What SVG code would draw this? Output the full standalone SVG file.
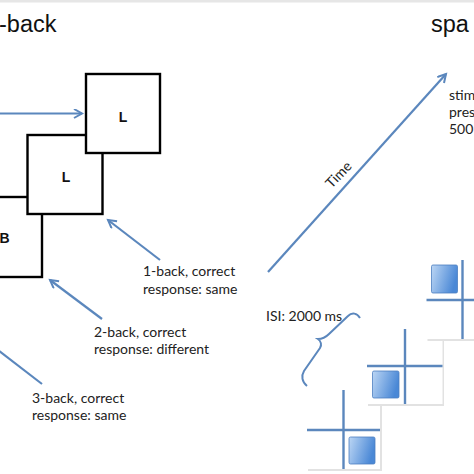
<svg xmlns="http://www.w3.org/2000/svg" width="474" height="474" viewBox="0 0 474 474">
<style>
.title{font-family:"Liberation Sans",Arial,sans-serif;font-size:23.5px;fill:#111}
.lbl{font-family:Lato,"Open Sans",sans-serif;font-size:14px;fill:#222}
.let{font-family:"Liberation Sans",Arial,sans-serif;font-size:14px;font-weight:bold;fill:#111}
.box{fill:#fff;stroke:#000;stroke-width:2.4}
.arr{stroke:#5b87bd;stroke-width:2.2;fill:none;marker-end:url(#ah)}
.cross{stroke:#5b87bd;stroke-width:2.4;fill:none}
.panel{fill:#fff}
.shadow{fill:#e2e2e2}
.stim{fill:url(#bg);stroke:#4d7fc0;stroke-width:0.8}
</style>
<defs>
<marker id="ah" markerUnits="userSpaceOnUse" markerWidth="12" markerHeight="12" refX="9" refY="5" orient="auto">
<path d="M1,0.5 L9,5 L1,9.5" fill="none" stroke="#5b87bd" stroke-width="2"/>
</marker>
<linearGradient id="bg" x1="0" y1="0" x2="1" y2="0.3">
<stop offset="0" stop-color="#bcd6f4"/>
<stop offset="1" stop-color="#4a88d6"/>
</linearGradient>
</defs>
<rect x="0" y="0" width="474" height="474" fill="#fff"/>
<rect x="0" y="0" width="474" height="2.5" fill="#e6e6e6"/>
<text class="title" x="-1" y="32">-back</text>
<text class="title" x="431" y="32">spa</text>

<g id="box3"><rect class="box" x="-33" y="197" width="75" height="80"/><text class="let" x="4.5" y="243" text-anchor="middle">B</text></g>
<g id="box2"><rect class="box" x="27.5" y="135" width="75" height="79"/><text class="let" x="66" y="182" text-anchor="middle">L</text></g>
<g id="box1"><rect class="box" x="86" y="74" width="74" height="79"/><text class="let" x="123" y="122" text-anchor="middle">L</text></g>

<g id="connectors">
<line class="arr" x1="0" y1="113.5" x2="82" y2="113.5"/>
<line class="arr" x1="160" y1="260" x2="108" y2="220"/>
<line class="arr" x1="102" y1="319" x2="50" y2="280"/>
<line class="arr" x1="42" y1="384" x2="-10" y2="344"/>
<line class="arr" x1="268" y1="272" x2="446" y2="74"/>
<path d="M360,318 C357,313 352,312 348,316 L329,334 C326,337 322,339 318,339 C321,341 322,345 320,348 L304,371 C301,376 302,382 307,386" fill="none" stroke="#5b87bd" stroke-width="2"/>
</g>

<g id="labels">
<text class="lbl" x="143" y="276">1-back, correct</text>
<text class="lbl" x="143" y="294">response: same</text>
<text class="lbl" x="94" y="337">2-back, correct</text>
<text class="lbl" x="94" y="354">response: different</text>
<text class="lbl" x="32" y="403">3-back, correct</text>
<text class="lbl" x="32" y="420">response: same</text>
<text class="lbl" x="266" y="321" font-size="13">ISI: 2000 ms</text>
<text class="lbl" x="449" y="100" font-size="12.5">stim</text>
<text class="lbl" x="449" y="117" font-size="12.5">pres</text>
<text class="lbl" x="449" y="134" font-size="12.5">500</text>
<text class="lbl" x="342" y="178" font-size="13" text-anchor="middle" transform="rotate(-46 342 178)">Time</text>
</g>

<g id="panel3">
<rect class="shadow" x="308" y="391" width="74" height="80"/>
<rect class="panel" x="307" y="390" width="73" height="79"/>
<line class="cross" x1="343.5" y1="390" x2="343.5" y2="469"/>
<line class="cross" x1="307" y1="430" x2="380" y2="430"/>
<rect class="stim" x="349" y="437" width="26" height="27" rx="1.5"/>
</g>
<g id="panel2">
<rect class="shadow" x="368" y="330" width="76" height="76"/>
<rect class="panel" x="367" y="329" width="75.5" height="75"/>
<line class="cross" x1="405" y1="329" x2="405" y2="404"/>
<line class="cross" x1="367" y1="366" x2="442.5" y2="366"/>
<rect class="stim" x="372.5" y="371" width="26.5" height="27" rx="1.5"/>
</g>
<g id="panel1">
<rect class="shadow" x="427.5" y="261" width="60" height="80"/>
<rect class="panel" x="426.5" y="260" width="60" height="79"/>
<line class="cross" x1="462.5" y1="260" x2="462.5" y2="339"/>
<line class="cross" x1="426.5" y1="300" x2="474" y2="300"/>
<rect class="stim" x="431.5" y="265" width="26" height="28" rx="1.5"/>
</g>
</svg>
